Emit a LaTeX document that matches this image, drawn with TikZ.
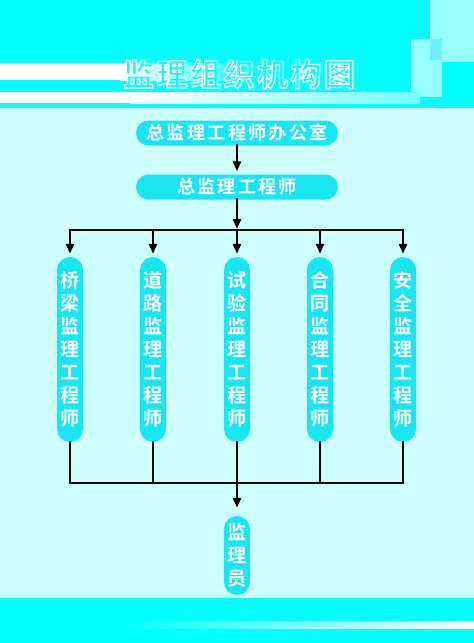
\documentclass[tikz,border=0pt]{standalone}
\usepackage{fontspec}
\setmainfont{Noto Sans CJK SC}[BoldFont={Noto Sans CJK SC Bold}]
\usetikzlibrary{arrows.meta}

\definecolor{bandcyan}{RGB}{0,255,255}
\definecolor{paleback}{RGB}{206,255,255}
\definecolor{pillcyan}{RGB}{24,230,242}
\definecolor{tilelight}{RGB}{150,255,255}
\definecolor{tiledark}{RGB}{105,243,255}

\begin{document}
\begin{tikzpicture}[x=1pt, y=-1pt,
  pill/.style={rectangle, rounded corners=12.5pt, fill=pillcyan, text=white, inner sep=0pt,
    minimum height=25pt, minimum width=202pt,
    font=\bfseries\fontsize{18}{18}\selectfont\addfontfeatures{LetterSpace=13}},
  vpill/.style={rectangle, rounded corners=13pt, fill=pillcyan, text=white, inner sep=0pt,
    minimum width=26pt, align=center, font=\bfseries\fontsize{19}{23}\selectfont},
  link/.style={line width=2.5pt, black, line cap=rect},
  arr/.style={link, -{Triangle[length=10pt,width=8pt]}}]

\useasboundingbox (0,0) rectangle (474,643);

% fondo
\fill[paleback] (0,0) rectangle (474,643);
\fill[bandcyan] (0,0) rectangle (474,108);
\fill[bandcyan] (0,598) rectangle (474,643);
\shade[left color=bandcyan, right color=white] (120,621) rectangle (474,628);

% cuadros arriba a la derecha
\fill[tilelight] (430,0) rectangle (474,62);
\fill[tilelight] (411,39) rectangle (442,97);
\fill[tiledark] (430,39) rectangle (442,60);

% franjas del titulo
\fill[white] (0,63) rectangle (120,80);
\shade[left color=white, right color=bandcyan] (120,63) rectangle (260,80);
\fill[white] (0,92) rectangle (130,103);
\shade[left color=white, right color=bandcyan!55!white] (130,92) rectangle (420,103);

% titulo
\node[text=bandcyan, font=\bfseries\fontsize{31}{31}\selectfont\addfontfeatures{LetterSpace=8}] (title) at (239,74)
{\special{pdf:literal direct 2 Tr 1.3 w 1 1 1 RG}监理组织机构图\special{pdf:literal direct 0 Tr}};

% direccion
\node[pill] (office) at (237,133) {总监理工程师办公室};
\node[pill] (chief) at (237,187) {总监理工程师};

% ingenieros
\node[vpill, minimum height=185pt] (bridge) at (70,349.5) {桥\\梁\\监\\理\\工\\程\\师};
\node[vpill, minimum height=185pt] (road) at (153,349.5) {道\\路\\监\\理\\工\\程\\师};
\node[vpill, minimum height=185pt] (test) at (237,349.5) {试\\验\\监\\理\\工\\程\\师};
\node[vpill, minimum height=185pt] (contract) at (320,349.5) {合\\同\\监\\理\\工\\程\\师};
\node[vpill, minimum height=185pt] (safety) at (403,349.5) {安\\全\\监\\理\\工\\程\\师};

% supervisor
\node[vpill, minimum height=79pt] (staff) at (237,555.5) {监\\理\\员};

% lineas
\coordinate (top) at (237,230);
\coordinate (bot) at (237,483);
\draw[arr, shorten >=3pt] (office) -- (chief);
\draw[arr, shorten >=1pt] (chief) -- (top);
\draw[link] (top -| bridge) -- (top -| safety);
\foreach \n in {bridge,road,test,contract,safety}
  \draw[arr, shorten >=3pt] (top -| \n) -- (\n);
\foreach \n in {bridge,road,test,contract,safety}
  \draw[link] (\n) -- (bot -| \n);
\draw[link] (bot -| bridge) -- (bot -| safety);
\draw[arr, shorten >=8pt] (bot) -- (staff);

\end{tikzpicture}
\end{document}
